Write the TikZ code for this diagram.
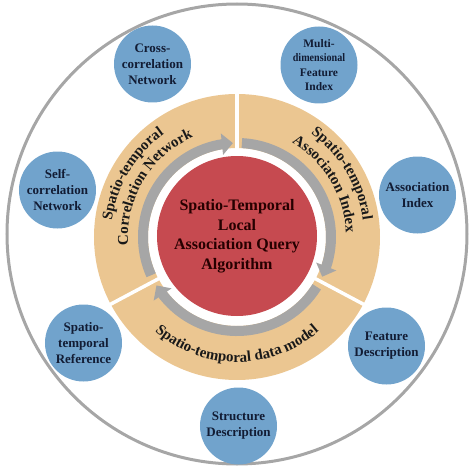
\documentclass[tikz,border=0pt]{standalone}
\usepackage{fontspec}
\setmainfont{Liberation Serif}
\usetikzlibrary{arrows.meta, bending, decorations.text}
\definecolor{ringtan}{RGB}{235,198,145}
\definecolor{bubbleblue}{RGB}{113,163,204}
\definecolor{corered}{RGB}{198,74,80}
\definecolor{loopgrey}{RGB}{166,166,166}
\definecolor{inkblue}{RGB}{18,28,52}
\newcommand{\ringfont}{\bfseries\fontsize{15}{18}\selectfont}

\begin{document}
\begin{tikzpicture}[
            bubble/.style={circle, fill=bubbleblue, minimum size=77pt, inner sep=0pt, align=center, text=inkblue, font=\bfseries\fontsize{13}{16}\selectfont},
            core/.style={circle, fill=corered, minimum size=160pt, inner sep=0pt, align=center, text=black!85!red, font=\bfseries\fontsize{16}{19.5}\selectfont},
            loop/.style={loopgrey, line width=10pt, -{Triangle[length=11pt, width=21pt]}},
            gap/.style={white, line width=3.5pt},
            ringtext/.style={decorate, decoration={text along path, text align=center, text color=black!90, text={#1}}}
        ]
    
        \useasboundingbox (-237pt,-237pt) rectangle (237pt,237pt);
        \draw[loopgrey, line width=3pt] (0pt,3pt) circle (230pt);
    
        \fill[ringtan, even odd rule] (0pt,0pt) circle (143pt) (0pt,0pt) circle (89pt);
        \foreach \a in {90,-28,208}
            \draw[gap] (\a:84pt) -- (\a:147pt);
    
        \draw[loop] (204:94pt) arc[start angle=204, end angle=92.5, radius=94pt];
        \draw[loop] (87:94pt) arc[start angle=87, end angle=-25, radius=94pt];
        \draw[loop] (-32:94pt) arc[start angle=-32, end angle=-149, radius=94pt];
    
        \node[core] (core) at (0pt,1pt) {Spatio-Temporal\\Local\\Association Query\\Algorithm};
    
        \path[ringtext={|\ringfont|Spatio-temporal}] (208:126pt) arc[start angle=208, end angle=90, radius=126pt];
        \path[ringtext={|\ringfont|Correlation Network}] (208:109pt) arc[start angle=208, end angle=90, radius=109pt];
        \path[ringtext={|\ringfont|Spatio-temporal}] (90:127pt) arc[start angle=90, end angle=-28, radius=127pt];
        \path[ringtext={|\ringfont|Associaton Index}] (90:109pt) arc[start angle=90, end angle=-28, radius=109pt];
        \path[ringtext={|\ringfont|Spatio-temporal data model}] (208:125pt) arc[start angle=208, end angle=332, radius=125pt];
    
        \node[bubble] (cross) at (-84.5pt,173pt) {Cross-\\correlation\\Network};
        \node[bubble, font=\bfseries\fontsize{11.5}{14.5}\selectfont] (multi) at (82pt,172pt) {Multi-\\\scalebox{0.88}[1]{dimensional}\\Feature\\Index};
        \node[bubble] (self) at (-179.5pt,47pt) {Self-\\correlation\\Network};
        \node[bubble] (assoc) at (180.5pt,42pt) {Association\\Index};
        \node[bubble] (stref) at (-153.5pt,-106pt) {Spatio-\\temporal\\Reference};
        \node[bubble] (feature) at (149.5pt,-109pt) {Feature\\Description};
        \node[bubble] (structure) at (1.5pt,-189pt) {Structure\\Description};
    
        \end{tikzpicture}
\end{document}
